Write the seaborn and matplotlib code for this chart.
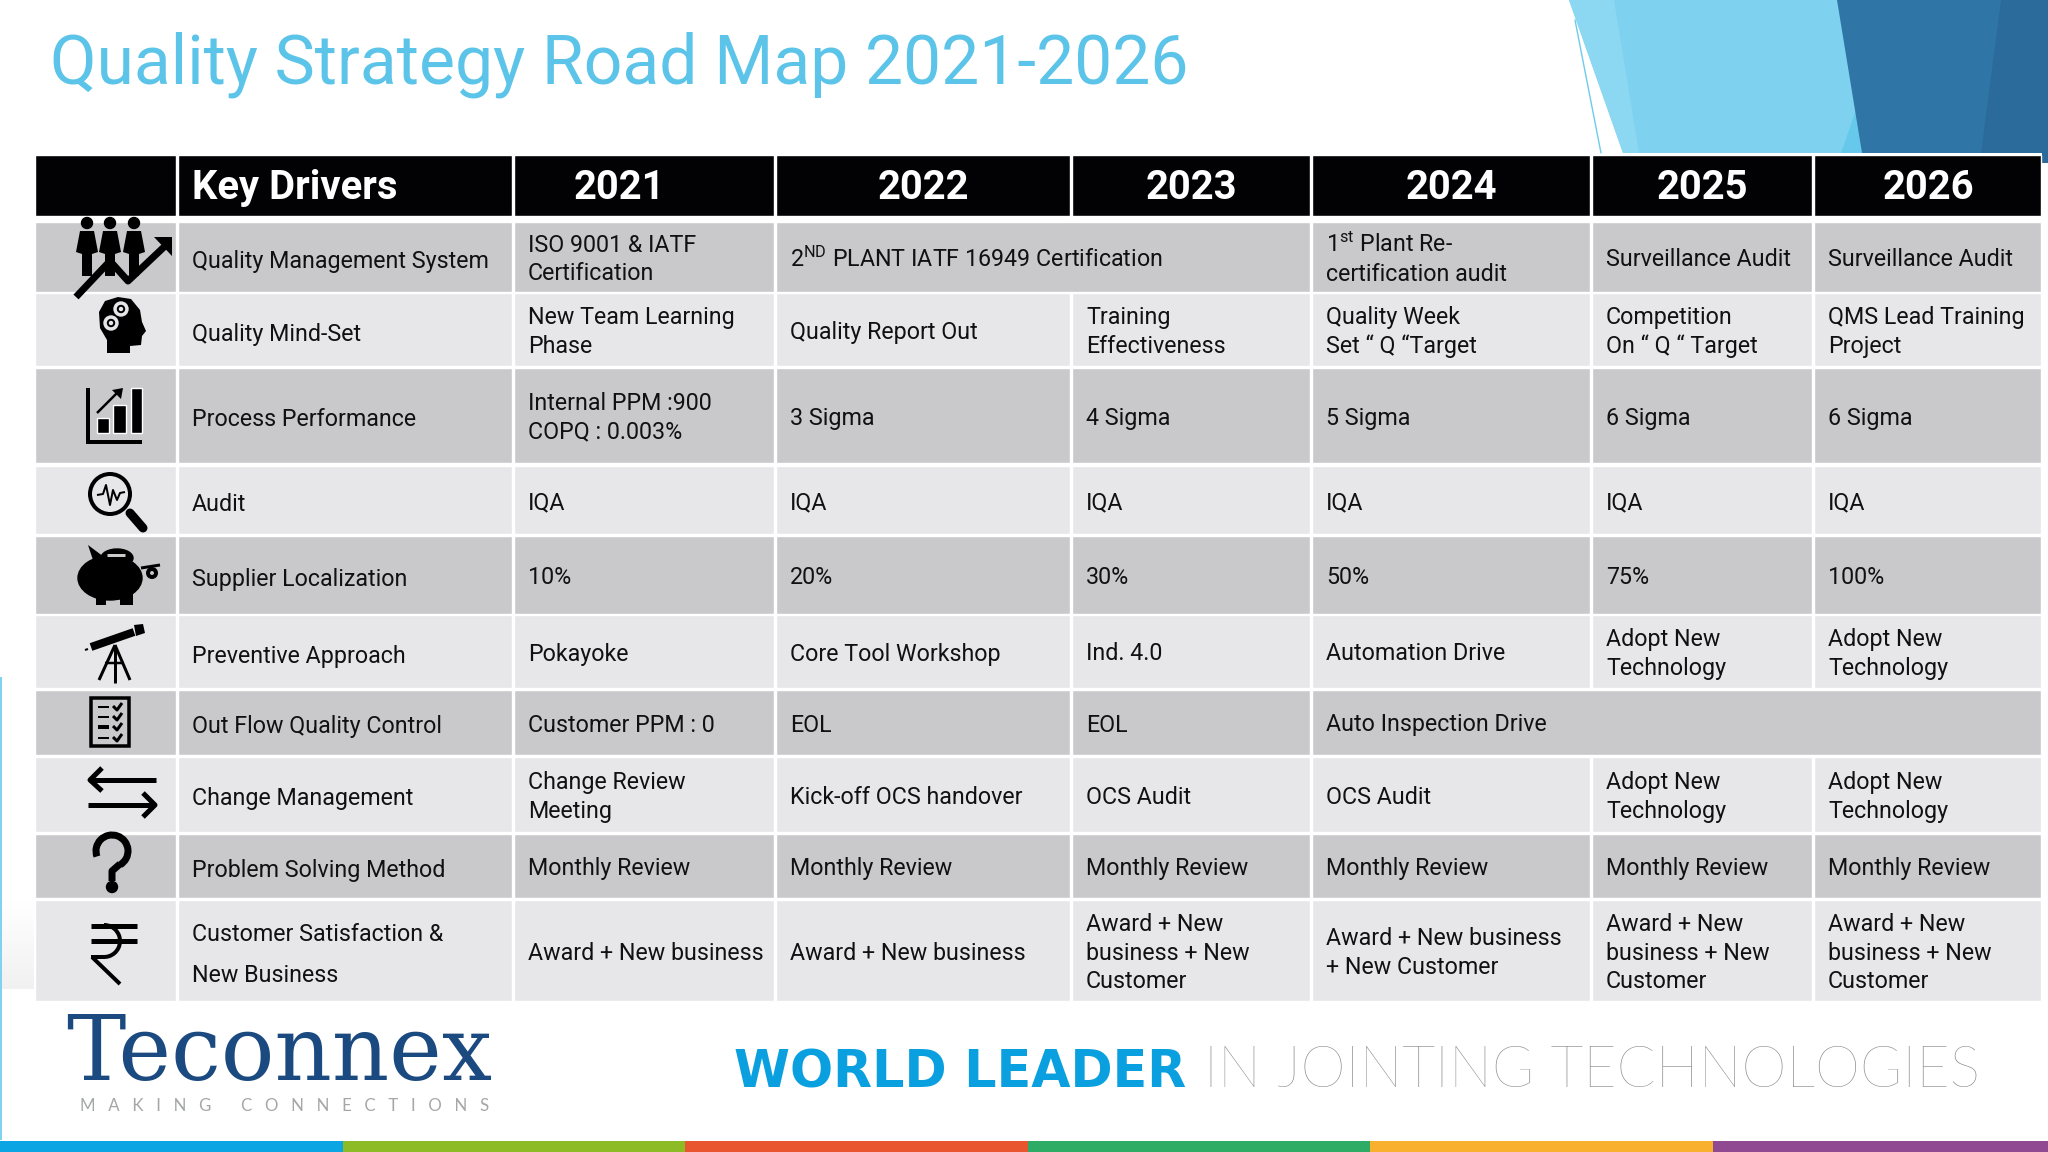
#!/usr/bin/env python3

import numpy as np
import seaborn as sns
import matplotlib
matplotlib.use('Agg')
import matplotlib.pyplot as plt
from matplotlib.colors import ListedColormap, LinearSegmentedColormap
from matplotlib.patches import Polygon, Circle, Ellipse, Rectangle, Arc

TITLE = 'Quality Strategy Road Map 2021-2026'
HEADER = ['', 'Key Drivers', '2021', '2022', '2023', '2024', '2025', '2026']

DRIVERS = ['Quality Management System', 'Quality Mind-Set', 'Process Performance', 'Audit',
           'Supplier Localization', 'Preventive Approach', 'Out Flow Quality Control',
           'Change Management', 'Problem Solving Method', 'Customer Satisfaction &\nNew Business']

# None means the cell on the left spans over this one
Y2021 = ['ISO 9001 & IATF\nCertification', 'New Team Learning\nPhase', 'Internal PPM :900\nCOPQ : 0.003%',
         'IQA', '10%', 'Pokayoke', 'Customer PPM : 0', 'Change Review\nMeeting', 'Monthly Review',
         'Award + New business']
Y2022 = ['2$^{ND}$ PLANT IATF 16949 Certification', 'Quality Report Out', '3 Sigma', 'IQA', '20%',
         'Core Tool Workshop', 'EOL', 'Kick-off OCS handover', 'Monthly Review', 'Award + New business']
Y2023 = [None, 'Training\nEffectiveness', '4 Sigma', 'IQA', '30%', 'Ind. 4.0', 'EOL', 'OCS Audit',
         'Monthly Review', 'Award + New\nbusiness + New\nCustomer']
Y2024 = ['1$^{st}$ Plant Re-\ncertification audit', 'Quality Week\nSet \u201c Q \u201cTarget', '5 Sigma', 'IQA',
         '50%', 'Automation Drive', 'Auto Inspection Drive', 'OCS Audit', 'Monthly Review',
         'Award + New business\n+ New Customer']
Y2025 = ['Surveillance Audit', 'Competition\nOn \u201c Q \u201c Target', '6 Sigma', 'IQA', '75%',
         'Adopt New\nTechnology', None, 'Adopt New\nTechnology', 'Monthly Review',
         'Award + New\nbusiness + New\nCustomer']
Y2026 = ['Surveillance Audit', 'QMS Lead Training\nProject', '6 Sigma', 'IQA', '100%',
         'Adopt New\nTechnology', None, 'Adopt New\nTechnology', 'Monthly Review',
         'Award + New\nbusiness + New\nCustomer']
YEARS = [Y2021, Y2022, Y2023, Y2024, Y2025, Y2026]

# layout of the slide, in pixels
COL_EDGES = [33.5, 176.5, 512.5, 774.5, 1070.5, 1310.5, 1590.5, 1812.5, 2042]
ROW_TOPS = [222, 293, 368, 466, 536, 615, 690, 757, 834, 900]
ROW_BOTTOMS = [292, 366, 463, 534, 614, 688, 755, 832, 898, 1001]
STRIP_COLORS = ['#0AA5E2', '#8DBB25', '#E9552F', '#2EAB64', '#FAB02F', '#904A91']

DARK = '#C9C8CB'
LIGHT = '#E7E6E9'
BLACK = '#020204'
GAP = 1
FONT = 'Roboto'
PX = 0.72


def draw_background(ax):
    # faint grey fade on the left margin
    fade = LinearSegmentedColormap.from_list('fade', ['#FFFFFF', '#F1F1F2'])
    ax.imshow(np.linspace(0, 1, 50)[:, None], cmap=fade, extent=(2, 34, 989, 900), aspect='auto', zorder=0)
    ax.add_patch(Rectangle((0, 677), 2, 463, color='#7DD3F0', lw=0, zorder=1))

    # top right shapes
    ax.add_patch(Polygon([(1569, 0), (2048, 0), (2048, 153), (1623, 153)], color='#7FD2EF', lw=0))
    ax.add_patch(Polygon([(1569, 0), (1614, 0), (1639, 153), (1623, 153)], color='#8CD7F1', lw=0))
    ax.add_patch(Polygon([(1856, 110), (1862, 153), (1841, 153)], color='#66C9EC', lw=0))
    ax.add_patch(Polygon([(1837, 0), (2048, 0), (2048, 163), (2042, 163), (2042, 153), (1862, 153)],
                         color='#2F76A6', lw=0))
    ax.add_patch(Polygon([(2001, 0), (2048, 0), (2048, 163), (2042, 163), (2042, 153), (1981, 153)],
                         color='#2A6B9C', lw=0))
    ax.plot([1575, 1601], [20, 153], color='#6CCBEC', lw=1)


def draw_table(ax):
    # header
    for i, name in enumerate(HEADER):
        left, right = COL_EDGES[i] + GAP, COL_EDGES[i + 1] - GAP
        ax.barh(185.5, right - left, height=61, left=left, color=BLACK, zorder=2)
        if i == 1:
            ax.text(left + 15, 188, name, color='white', fontsize=40 * PX, fontweight='bold',
                    va='center', ha='left', zorder=4)
        elif name:
            shift = -24 if name == '2021' else 1
            ax.text((left + right) / 2 + shift, 188, name, color='white', fontsize=40 * PX, fontweight='bold',
                    va='center', ha='center', zorder=4)

    # body
    for r, driver in enumerate(DRIVERS):
        top, bottom = ROW_TOPS[r], ROW_BOTTOMS[r]
        color = DARK if r % 2 == 0 else LIGHT
        mid = (top + bottom) / 2
        for c in (0, 1):
            left, right = COL_EDGES[c] + GAP, COL_EDGES[c + 1] - GAP
            ax.barh(mid, right - left, height=bottom - top, left=left, color=color, zorder=2)
        spacing = 2.0 if r == 9 else 1.3
        ax.text(COL_EDGES[1] + 15.5, mid + 4.5, driver, fontsize=23.2 * PX, va='center', ha='left',
                color='#111111', linespacing=spacing, zorder=4)

        for y, year in enumerate(YEARS):
            label = year[r]
            if label is None:
                continue
            end = y + 1
            while end < len(YEARS) and YEARS[end][r] is None:
                end += 1
            left, right = COL_EDGES[y + 2] + GAP, COL_EDGES[end + 2] - GAP
            ax.barh(mid, right - left, height=bottom - top, left=left, color=color, zorder=2)
            ax.text(COL_EDGES[y + 2] + 15.5, mid + 2.5, label, fontsize=23.2 * PX, va='center', ha='left',
                    color='#111111', linespacing=1.3, zorder=4)


def line(ax, xs, ys, lw=3, **kw):
    kw.setdefault('solid_capstyle', 'butt')
    ax.plot(xs, ys, color='black', lw=lw * PX, zorder=5, **kw)


def fill(ax, pts, color='black'):
    ax.add_patch(Polygon(pts, color=color, lw=0, zorder=5))


def icon_people(ax):
    for x in (87, 110, 134):
        ax.add_patch(Circle((x, 223), 5.5, color='black', zorder=5))
        fill(ax, [(x - 7, 231), (x + 7, 231), (x + 11, 252), (x + 5, 254), (x + 5, 276), (x - 5, 276),
                  (x - 5, 254), (x - 11, 252)])
    line(ax, [76, 110, 128, 164], [297, 261, 281, 247], lw=7)
    fill(ax, [(172, 237), (172, 256), (154, 237)])


def icon_head(ax):
    fill(ax, [(107, 353), (107, 340), (100, 328), (99, 312), (105, 301), (118, 297), (131, 299), (140, 310),
              (142, 322), (146, 331), (142, 336), (141, 345), (130, 346), (130, 353)])
    for x, y, r in ((121, 309, 6), (111, 323, 6)):
        ax.add_patch(Circle((x, y), r + 1, color=LIGHT, zorder=6))
        ax.add_patch(Circle((x, y), r - 2.5, color='black', zorder=7))
        ax.add_patch(Circle((x, y), r - 4.5, color=LIGHT, zorder=8))


def icon_chart(ax):
    line(ax, [88, 88, 142], [388, 442, 442], lw=4, solid_joinstyle='miter')
    ax.bar([103, 119.5, 136.5], [15, 28, 45], bottom=[418, 405, 388], width=[12, 13, 11], color='black', zorder=5)
    line(ax, [97, 118], [413, 392], lw=2.5)
    fill(ax, [(123, 388), (112, 390), (121, 399)])


def icon_audit(ax):
    ax.add_patch(Circle((110, 494), 20, fill=False, ec='black', lw=4 * PX, zorder=5))
    line(ax, [130, 143], [513, 528], lw=9, solid_capstyle='round')
    line(ax, [97, 103, 106, 110, 113, 117, 120, 125], [495, 494, 485, 505, 490, 500, 493, 492], lw=2)


def icon_pig(ax):
    ax.add_patch(Ellipse((110, 578), 64, 44, color='black', zorder=5))
    fill(ax, [(96, 592), (106, 592), (106, 605), (96, 605)])
    fill(ax, [(120, 592), (133, 592), (133, 605), (120, 605)])
    fill(ax, [(88, 545), (104, 557), (95, 566)])
    ax.add_patch(Ellipse((117, 558), 32, 18, color='black', zorder=5))
    line(ax, [107, 125], [555, 555], lw=3)
    ax.lines[-1].set_color(DARK)
    ax.lines[-1].set_zorder(6)
    line(ax, [141, 160], [568, 565], lw=3)
    ax.add_patch(Circle((152, 573), 4, fill=False, ec='black', lw=4 * PX, zorder=5))


def icon_scope(ax):
    line(ax, [91, 134], [647, 632], lw=8)
    fill(ax, [(134, 625), (143, 624), (145, 633), (136, 636)])
    line(ax, [115, 99], [645, 680], lw=3)
    line(ax, [115, 115], [645, 683], lw=3)
    line(ax, [115, 130], [645, 680], lw=3)
    line(ax, [105, 124], [663, 663], lw=2.5)
    line(ax, [85, 88], [650, 649], lw=2)


def icon_checklist(ax):
    ax.add_patch(Rectangle((91, 698), 38, 48, fill=False, ec='black', lw=3.5 * PX, zorder=5))
    for y, width in zip((707, 717, 727, 738), (2, 2, 4, 2)):
        line(ax, [98, 109], [y, y], lw=width)
        line(ax, [113, 117, 122], [y - 1, y + 3, y - 4], lw=3)


def icon_arrows(ax):
    line(ax, [156, 90], [780, 780], lw=5)
    line(ax, [102, 90, 102], [768, 780, 791], lw=5)
    line(ax, [88, 154], [805, 805], lw=5)
    line(ax, [143, 155, 143], [793, 805, 817], lw=5)


def icon_question(ax):
    ax.add_patch(Arc((112, 851), 32, 32, theta1=-200, theta2=60, ec='black', lw=7 * PX, zorder=5))
    line(ax, [120, 112, 112], [864, 871, 881], lw=7)
    ax.add_patch(Circle((112, 887), 5.5, color='black', zorder=5))


def icon_rupee(ax):
    line(ax, [91, 137], [926, 926], lw=5)
    line(ax, [91, 137], [941, 941], lw=5)
    ax.add_patch(Arc((104, 941), 32, 32, theta1=-90, theta2=95, ec='black', lw=4 * PX, zorder=5))
    line(ax, [91, 104], [957, 957], lw=4)
    line(ax, [92, 120], [957, 984], lw=4)


def draw_footer(fig, ax):
    ax.text(66, 1080, 'Teconnex', family='DejaVu Serif', fontsize=89 * PX, color='#1B4A80', va='baseline',
            ha='left', zorder=5)
    ax.text(80, 1111, '   '.join('MAKING') + '       ' + '   '.join('CONNECTIONS'), family='Lato',
            fontsize=16.7 * PX, color='#A5A6A8', va='baseline', ha='left', zorder=5)
    ax.text(734, 1087, 'WORLD LEADER', family='DejaVu Sans', fontweight='bold', fontsize=50.7 * PX, color='#0AA0E0',
            va='baseline', ha='left', zorder=5)
    ax.text(1204, 1087, 'IN JOINTING TECHNOLOGIES', family='Lato', fontweight='light', fontsize=57.4 * PX,
            color='#87878A', va='baseline', ha='left', zorder=5)

    # coloured strip along the bottom, the last colour runs off the slide
    strip = fig.add_axes([0, 0, 2055 / 2048, 11.5 / 1152])
    sns.heatmap(np.arange(len(STRIP_COLORS))[None, :], cmap=ListedColormap(STRIP_COLORS), cbar=False,
                xticklabels=False, yticklabels=False, ax=strip)


def main():
    sns.set_theme(style='white')
    plt.rcParams['font.family'] = [FONT, 'DejaVu Sans']
    plt.rcParams['mathtext.fontset'] = 'custom'
    plt.rcParams['mathtext.rm'] = FONT
    plt.rcParams['mathtext.it'] = FONT
    plt.rcParams['mathtext.default'] = 'regular'

    fig = plt.figure(figsize=(20.48, 11.52), dpi=100, facecolor='white')
    ax = fig.add_axes([0, 0, 1, 1])

    draw_background(ax)
    ax.text(50, 84, TITLE, color='#5BC4E8', fontsize=67.8 * PX, va='baseline', ha='left', zorder=5)
    draw_table(ax)

    for icon in (icon_people, icon_head, icon_chart, icon_audit, icon_pig, icon_scope, icon_checklist,
                 icon_arrows, icon_question, icon_rupee):
        icon(ax)

    draw_footer(fig, ax)

    ax.set_xlim(0, 2048)
    ax.set_ylim(1152, 0)
    ax.set_aspect('auto')
    ax.axis('off')
    fig.savefig('out.png', dpi=100)


if __name__ == '__main__':
    main()
